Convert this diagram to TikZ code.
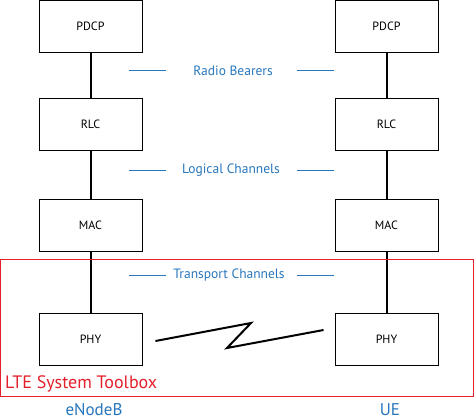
\documentclass[tikz,border=0pt]{standalone}
\usepackage{fontspec}
\setmainfont{PT Sans}
\usetikzlibrary{positioning}
\definecolor{lteblue}{RGB}{40,118,188}
\definecolor{ltered}{RGB}{228,32,44}

\begin{document}
\begin{tikzpicture}[x=1pt, y=-1pt,
			every node/.style={font=\fontsize{12}{14}\selectfont},
			layer/.style={draw, line width=0.9pt, minimum width=103pt, minimum height=52pt, inner sep=0pt},
			link/.style={line width=2pt},
			chan/.style={text=lteblue, font=\fontsize{13.5}{16}\selectfont},
			tick/.style={draw=lteblue, line width=1pt},
			side/.style={text=lteblue, font=\fontsize{17}{20}\selectfont}]
			\useasboundingbox (0,0) rectangle (474,420);
			% eNodeB stack
			\node[layer] (pe) at (90.5,26) {PDCP};
			\node[layer] (re) at (90.5,124) {RLC};
			\node[layer] (me) at (90.5,225) {MAC};
			\node[layer] (he) at (90.5,339) {PHY};
			% UE stack
			\node[layer] (pu) at (386.5,26) {PDCP};
			\node[layer] (ru) at (386.5,124) {RLC};
			\node[layer] (mu) at (386.5,225) {MAC};
			\node[layer] (hu) at (386.5,339) {PHY};
			\draw[link] (pe) -- (re) -- (me) -- (he);
			\draw[link] (pu) -- (ru) -- (mu) -- (hu);
			% channel labels
			\node[chan] (rb) at (233,71) {Radio Bearers};
			\node[chan] (lc) at (231,170) {Logical Channels};
			\node[chan] (tc) at (229,275) {Transport Channels};
			\foreach \y in {71,170,275} {
				\draw[tick] (129,\y) -- (166,\y);
				\draw[tick] (297,\y) -- (334,\y);
			}
			% radio link
			\coordinate (z1) at (251,323);
			\coordinate (z2) at (227,348);
			\draw[link] ([xshift=13pt,yshift=-2pt]he.east) -- (z1) -- (z2) -- ([xshift=-11pt,yshift=9pt]hu.west);
			% toolbox frame
			\draw[ltered, line width=0.9pt] (0.5,259) rectangle (473.5,396);
			\node[anchor=west, text=ltered, font=\fontsize{18}{21}\selectfont, inner sep=0pt] (tb) at (5,384) {LTE System Toolbox};
			\node[side] (enb) at (94,410) {eNodeB};
			\node[side] (ue) at (390,410) {UE};
		\end{tikzpicture}
\end{document}
